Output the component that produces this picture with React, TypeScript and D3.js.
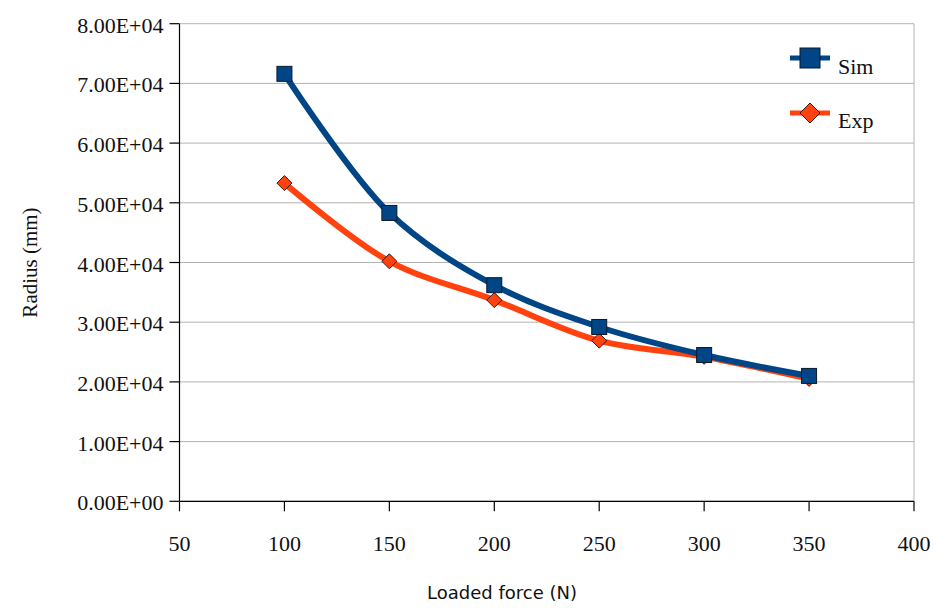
import React from "react";
import * as d3 from "d3";

// Loaded force (N) vs radius (mm)
const forces = [100, 150, 200, 250, 300, 350];
const simRadius = [71600, 48300, 36200, 29200, 24500, 21000];
const expRadius = [53300, 40200, 33700, 26900, 24200, 20500];
const xTicks = [50, 100, 150, 200, 250, 300, 350, 400];
const yTicks = [0, 10000, 20000, 30000, 40000, 50000, 60000, 70000, 80000];

const SIM = "#004586";
const EXP = "#ff420e";

const W = 949;
const H = 608;
const margin = { top: 23.7, right: 35, bottom: 106.7, left: 179.5 };

const fmtExp = (v: number) => {
  const s = v.toExponential(2).toUpperCase(); // e.g. 8.00E+4
  return s.replace(/E([+-])(\d)$/, "E$10$2");
};

export default function App() {
  const x = d3.scaleLinear().domain([50, 400]).range([margin.left, W - margin.right]);
  const y = d3.scaleLinear().domain([0, 80000]).range([H - margin.bottom, margin.top]);

  const line = d3
    .line<number>()
    .x((_, i) => x(forces[i]))
    .y((d) => y(d))
    .curve(d3.curveCatmullRom.alpha(0.5));

  const serif = "'Liberation Serif', 'Times New Roman', serif";
  const x0 = x(50);
  const x1 = x(400);
  const yb = y(0);

  const diamond = (cx: number, cy: number, r: number) =>
    `M${cx},${cy - r}L${cx + r},${cy}L${cx},${cy + r}L${cx - r},${cy}Z`;

  return (
    <svg width={W} height={H} style={{ position: "absolute", left: 0, top: 0, background: "#fff" }}>
      {/* grid */}
      {yTicks.map((t) => (
        <line key={"g" + t} x1={x0} x2={x1} y1={y(t)} y2={y(t)} stroke="#b3b3b3" strokeWidth={1} />
      ))}
      <line x1={x1} x2={x1} y1={y(80000)} y2={yb} stroke="#b3b3b3" strokeWidth={1} />

      {/* axes */}
      <line x1={x0} x2={x0} y1={y(80000)} y2={yb} stroke="#000" strokeWidth={1.2} />
      <line x1={x0} x2={x1} y1={yb} y2={yb} stroke="#000" strokeWidth={1.2} />
      {yTicks.map((t) => (
        <g key={"y" + t}>
          <line x1={x0 - 10} x2={x0} y1={y(t)} y2={y(t)} stroke="#000" strokeWidth={1.2} />
          <text x={x0 - 16} y={y(t) + 9} textAnchor="end" fontFamily={serif} fontSize={22} fill="#111">
            {fmtExp(t)}
          </text>
        </g>
      ))}
      {xTicks.map((t) => (
        <g key={"x" + t}>
          <line x1={x(t)} x2={x(t)} y1={yb} y2={yb + 10} stroke="#000" strokeWidth={1.2} />
          <text x={x(t)} y={551} textAnchor="middle" fontFamily={serif} fontSize={22} fill="#111">
            {t}
          </text>
        </g>
      ))}

      {/* axis titles */}
      <text x={502} y={599} textAnchor="middle" fontFamily="'DejaVu Sans', sans-serif" fontSize={18} fill="#111">
        Loaded force (N)
      </text>
      <text
        transform={`translate(37,${(y(80000) + yb) / 2}) rotate(-90)`}
        textAnchor="middle"
        fontFamily={serif}
        fontSize={21}
        fill="#111"
      >
        Radius (mm)
      </text>

      {/* Exp series */}
      <path d={line(expRadius) ?? ""} fill="none" stroke={EXP} strokeWidth={6} strokeLinejoin="round" />
      {expRadius.map((v, i) => (
        <path key={"e" + i} d={diamond(x(forces[i]), y(v), 7.5)} fill={EXP} stroke="#3a1a10" strokeWidth={1} />
      ))}

      {/* Sim series */}
      <path d={line(simRadius) ?? ""} fill="none" stroke={SIM} strokeWidth={6} strokeLinejoin="round" />
      {simRadius.map((v, i) => (
        <rect
          key={"s" + i}
          x={x(forces[i]) - 7.5}
          y={y(v) - 7.5}
          width={15}
          height={15}
          fill={SIM}
          stroke="#0b1a2a"
          strokeWidth={1}
        />
      ))}

      {/* legend */}
      <g>
        <line x1={790} x2={830} y1={58} y2={58} stroke={SIM} strokeWidth={5} />
        <rect x={800} y={48} width={20} height={20} fill={SIM} stroke="#0b1a2a" strokeWidth={1} />
        <text x={838} y={74} fontFamily={serif} fontSize={22} fill="#111">Sim</text>
        <line x1={790} x2={830} y1={113} y2={113} stroke={EXP} strokeWidth={5} />
        <path d={diamond(810, 113, 10)} fill={EXP} stroke="#3a1a10" strokeWidth={1} />
        <text x={838} y={128} fontFamily={serif} fontSize={22} fill="#111">Exp</text>
      </g>
    </svg>
  );
}
